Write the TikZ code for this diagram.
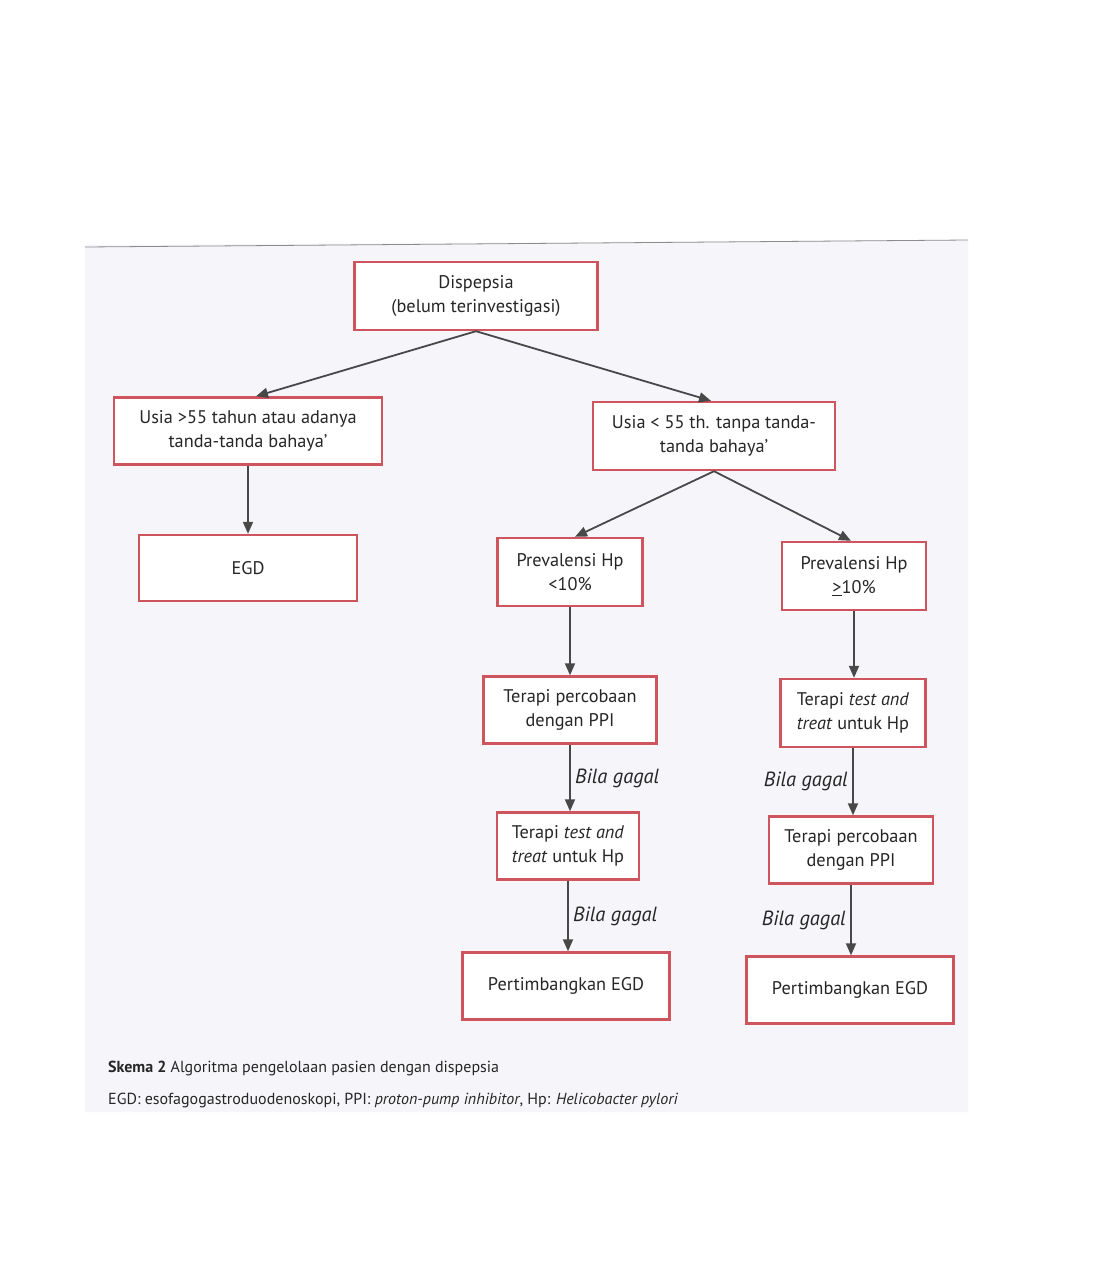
\documentclass[tikz,border=0pt]{standalone}
\usepackage{fontspec}
\setmainfont{PT Sans}
\usetikzlibrary{arrows.meta}
\definecolor{boxred}{RGB}{206,84,94}
\definecolor{arrgray}{RGB}{72,72,72}
\definecolor{panel}{RGB}{246,246,250}
\begin{document}
\begin{tikzpicture}[x=1pt,y=-1pt,
  box/.style={draw=boxred,line width=2.4pt,fill=white,align=center,inner sep=0pt,
    font=\fontsize{18.3}{24}\selectfont,text=black!85},
  arr/.style={draw=arrgray,line width=1.8pt,-{Triangle[length=12pt,width=10pt]}},
  lbl/.style={font=\fontsize{20.5}{22}\selectfont\itshape,text=black!85},
  captxt/.style={anchor=west,font=\fontsize{16}{18}\selectfont,text=black!85,inner sep=0pt}]
\useasboundingbox (0,0) rectangle (1119,1286);
\fill[white] (0,0) rectangle (1119,1286);
\fill[panel] (85,245) -- (968,240) -- (968,1112) -- (85,1112) -- cycle;
\draw[black!45,line width=0.8pt] (85,247) -- (968,240);

\node[box,minimum width=243,minimum height=68] (d) at (476,296) {Dispepsia\\(belum terinvestigasi)};
\node[box,minimum width=268,minimum height=67] (u1) at (248,431) {Usia >55 tahun atau adanya\\tanda-tanda bahaya'};
\node[box,minimum width=242,minimum height=68] (u2) at (714,436) {Usia < 55 th. tanpa tanda-\\tanda bahaya'};
\node[box,minimum width=218,minimum height=66] (egd) at (248,568) {EGD};
\node[box,minimum width=145,minimum height=68] (p1) at (570,572) {Prevalensi Hp\\<10\%};
\node[box,minimum width=144,minimum height=68] (p2) at (854,576) {Prevalensi Hp\\\underline{>}10\%};
\node[box,minimum width=173,minimum height=67] (t1) at (570,710) {Terapi percobaan\\dengan PPI};
\node[box,minimum width=145,minimum height=68] (t2) at (853,713) {Terapi \textit{test and}\\\textit{treat} untuk Hp};
\node[box,minimum width=142,minimum height=67] (s1) at (568,846) {Terapi \textit{test and}\\\textit{treat} untuk Hp};
\node[box,minimum width=164,minimum height=67] (s2) at (851,850) {Terapi percobaan\\dengan PPI};
\node[box,minimum width=207,minimum height=67] (e1) at (566,986) {Pertimbangkan EGD};
\node[box,minimum width=207,minimum height=67] (e2) at (850,990) {Pertimbangkan EGD};

\draw[arr] (d.south) -- ([xshift=8pt]u1.north);
\draw[arr] (d.south) -- ([xshift=-3pt]u2.north);
\draw[arr] (u1.south) -- (u1.south |- egd.north);
\draw[arr] (u2.south) -- ([xshift=5pt]p1.north);
\draw[arr] (u2.south) -- ([xshift=-3pt]p2.north);
\draw[arr] (p1.south) -- (p1.south |- t1.north);
\draw[arr] (p2.south) -- (p2.south |- t2.north);
\draw[arr] (t1.south) -- (t1.south |- s1.north) node[lbl,midway,right,xshift=1pt] (g1) {Bila gagal};
\draw[arr] (t2.south) -- (t2.south |- s2.north) node[lbl,midway,left,xshift=-1pt] (g2) {Bila gagal};
\draw[arr] (s1.south) -- (s1.south |- e1.north) node[lbl,midway,right,xshift=1pt] (g3) {Bila gagal};
\draw[arr] (s2.south) -- (s2.south |- e2.north) node[lbl,midway,left,xshift=-1pt] (g4) {Bila gagal};

\node[captxt] (c1) at (108,1068) {\textbf{Skema 2} Algoritma pengelolaan pasien dengan dispepsia};
\node[captxt] (c2) at (108,1100) {EGD: esofagogastroduodenoskopi, PPI: \textit{proton-pump inhibitor}, Hp: \textit{Helicobacter pylori}};
\end{tikzpicture}
\end{document}
